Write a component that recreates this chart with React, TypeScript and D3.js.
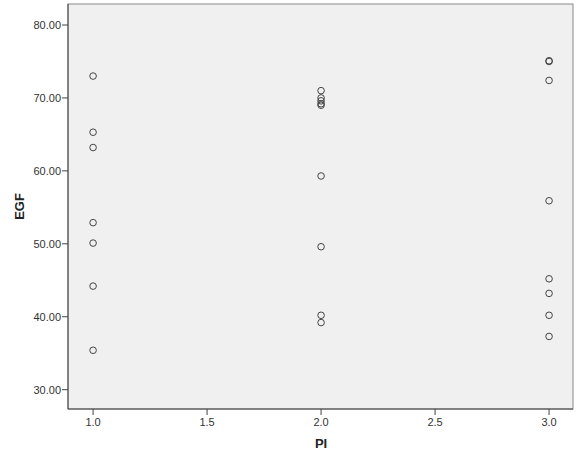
import React from "react";
import * as d3 from "d3";

const piValues = [1, 1, 1, 1, 1, 1, 1, 2, 2, 2, 2, 2, 2, 2, 2, 2, 3, 3, 3, 3, 3, 3, 3, 3];
const egfValues = [73.0, 65.3, 63.2, 52.9, 50.1, 44.2, 35.4, 71.0, 70.0, 69.6, 69.2, 69.0, 59.3, 49.6, 40.2, 39.2, 75.1, 75.0, 72.4, 55.9, 45.2, 43.2, 40.2, 37.3];
const xTicks = [1.0, 1.5, 2.0, 2.5, 3.0];
const yTicks = [30, 40, 50, 60, 70, 80];

export default function App() {
  const W = 580, H = 464;
  const left = 68, right = 573, top = 4, bottom = 409;
  const x = d3.scaleLinear().domain([0.89, 3.105]).range([left, right]);
  const y = d3.scaleLinear().domain([27.35, 82.88]).range([bottom, top]);
  const font = "'Liberation Sans', Arial, sans-serif";
  return (
    <svg width={W} height={H} style={{ position: "absolute", left: 0, top: 0 }}>
      <rect x={0} y={0} width={W} height={H} fill="#fff" />
      <rect x={left} y={top} width={right - left} height={bottom - top} fill="#f0f0f0" stroke="#888" strokeWidth={1} />
      <line x1={left} x2={left} y1={top} y2={bottom} stroke="#444" />
      <line x1={left} x2={right} y1={bottom} y2={bottom} stroke="#444" />
      {yTicks.map((t) => (
        <g key={t}>
          <line x1={left - 6} x2={left} y1={y(t)} y2={y(t)} stroke="#444" />
          <text x={left - 7} y={y(t)} dy="0.35em" textAnchor="end" fontFamily={font} fontSize={11} fill="#333">
            {t.toFixed(2)}
          </text>
        </g>
      ))}
      {xTicks.map((t) => (
        <g key={t}>
          <line x1={x(t)} x2={x(t)} y1={bottom} y2={bottom + 6} stroke="#444" />
          <text x={x(t)} y={bottom + 17} textAnchor="middle" fontFamily={font} fontSize={11} fill="#333">
            {t.toFixed(1)}
          </text>
        </g>
      ))}
      {piValues.map((p, i) => (
        <circle key={i} cx={x(p)} cy={y(egfValues[i])} r={3.3} fill="none" stroke="#444" strokeWidth={1} />
      ))}
      <text x={x(2)} y={448} textAnchor="middle" fontFamily={font} fontSize={13} fontWeight="bold" fill="#222">PI</text>
      <text transform={`translate(24, ${(top + bottom) / 2}) rotate(-90)`} textAnchor="middle" fontFamily={font} fontSize={13} fontWeight="bold" fill="#222">EGF</text>
    </svg>
  );
}
